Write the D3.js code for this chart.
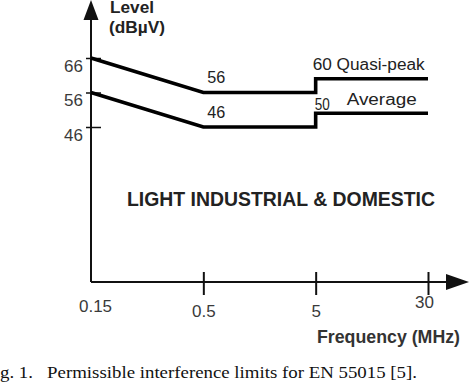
<!DOCTYPE html>
<html><head><meta charset="utf-8">
<script src="https://cdn.jsdelivr.net/npm/d3@7"></script>
<style>
body{margin:0;background:#fff;}
svg{display:block;}
</style></head>
<body>
<svg id="c" width="474" height="391"></svg>
<script>
const freqs = ["0.15","0.5","5","30"];
const levelTicks = [66,56,46];
const quasiPeak = [["0.15",66],["0.5",56],["5",56],["5",60],["30",60]];
const average = [["0.15",56],["0.5",46],["5",46],["5",50],["30",50]];
const lineLabelTexts = ["56","46","60 Quasi-peak","50","Average"];
const lineLabelAnchors = [["0.5",56],["0.5",46],["5",60],["5",50],["5",50]];

const SANS = "Liberation Sans, Arial, Helvetica, sans-serif";
const SERIF = "Liberation Serif, Times New Roman, serif";
const svg = d3.select("#c");
const x = d3.scalePoint().domain(freqs).range([91,428]);
const y = d3.scaleLinear().domain([46,66]).range([127,58]);
const x0 = 91, yBase = 282;

// axis lines + arrows
svg.append("line").attr("x1",x0).attr("x2",x0).attr("y1",14).attr("y2",yBase)
  .attr("stroke","#111").attr("stroke-width",2);
svg.append("line").attr("x1",x0).attr("x2",450).attr("y1",yBase).attr("y2",yBase)
  .attr("stroke","#111").attr("stroke-width",2);
svg.append("path").attr("d",`M${x0},0 L${x0-7.5},20 L${x0+7.5},20 Z`).attr("fill","#111");
svg.append("path").attr("d",`M469,${yBase} L446,${yBase-8} L446,${yBase+8} Z`).attr("fill","#111");

// x axis ticks
const xa = svg.append("g").attr("transform",`translate(0,${yBase})`)
  .call(d3.axisBottom(x).tickSize(12).tickPadding(0));
xa.select(".domain").remove();
xa.selectAll(".tick line").attr("y1",-10).attr("y2",13).attr("stroke","#111").attr("stroke-width",2)
  .filter(d=>d==="0.15").remove();
const xLabelDx = {"0.15":4,"0.5":0,"5":0,"30":-4};
const xLabelBase = {"0.15":30,"0.5":35,"5":35,"30":26};
xa.selectAll(".tick text")
  .style("font-family",SANS).style("font-size","17px").attr("fill","#3a3a3a")
  .attr("dx",d=>xLabelDx[d]).attr("y",d=>xLabelBase[d]).attr("dy",0);

// y axis ticks
const ya = svg.append("g").attr("transform",`translate(${x0},0)`)
  .call(d3.axisLeft(y).tickValues(levelTicks).tickSize(6).tickPadding(2).tickFormat(d3.format("d")));
ya.select(".domain").remove();
ya.selectAll(".tick line").attr("x1",-5).attr("x2",10).attr("stroke","#111").attr("stroke-width",1.5);
ya.selectAll(".tick text").style("font-family",SANS).style("font-size","17px").attr("fill","#3a3a3a").attr("dy","0.78em");

// limit lines
const line = d3.line().x(d=>x(d[0])).y(d=>y(d[1]));
[quasiPeak, average].forEach(s=>{
  svg.append("path").attr("d",line(s)).attr("fill","none").attr("stroke","#000")
    .attr("stroke-width",3.6).attr("stroke-linejoin","miter");
});

// line labels (layout offsets kept here, not in data)
const labelLayout = [
  {dx:4, dy:-10, w:18},
  {dx:4, dy:-9, w:18},
  {dx:-3, dy:-9, w:112},
  {dx:-1, dy:-3, w:15},
  {dx:31, dy:-8, w:70}
];
lineLabelTexts.forEach((t,i)=>{
  const a = lineLabelAnchors[i], L = labelLayout[i];
  svg.append("text").attr("x",x(a[0])+L.dx).attr("y",y(a[1])+L.dy)
    .style("font-family",SANS).style("font-size","16px").attr("fill","#222")
    .attr("textLength",L.w).attr("lengthAdjust","spacingAndGlyphs").text(t);
});

// axis titles
svg.append("text").attr("x",110).attr("y",13).style("font-family",SANS).style("font-size","16px")
  .style("font-weight","bold").attr("fill","#222").attr("textLength",44).attr("lengthAdjust","spacingAndGlyphs").text("Level");
svg.append("text").attr("x",109).attr("y",33).style("font-family",SANS).style("font-size","16px")
  .style("font-weight","bold").attr("fill","#222").attr("textLength",56).attr("lengthAdjust","spacingAndGlyphs").text("(dBµV)");
svg.append("text").attr("x",317).attr("y",343).style("font-family",SANS).style("font-size","17.5px")
  .style("font-weight","bold").attr("fill","#333").attr("textLength",143).attr("lengthAdjust","spacingAndGlyphs").text("Frequency (MHz)");

svg.append("text").attr("x",127).attr("y",206).style("font-family",SANS).style("font-size","21px")
  .style("font-weight","bold").attr("fill","#222")
  .attr("textLength",308).attr("lengthAdjust","spacingAndGlyphs").text("LIGHT INDUSTRIAL & DOMESTIC");

svg.append("text").attr("x",0).attr("y",378).style("font-family",SERIF).style("font-size","17px")
  .attr("fill","#111").attr("xml:space","preserve").style("white-space","pre")
  .attr("textLength",417).attr("lengthAdjust","spacingAndGlyphs")
  .text("g. 1.   Permissible interference limits for EN 55015 [5].");
</script>
</body></html>
